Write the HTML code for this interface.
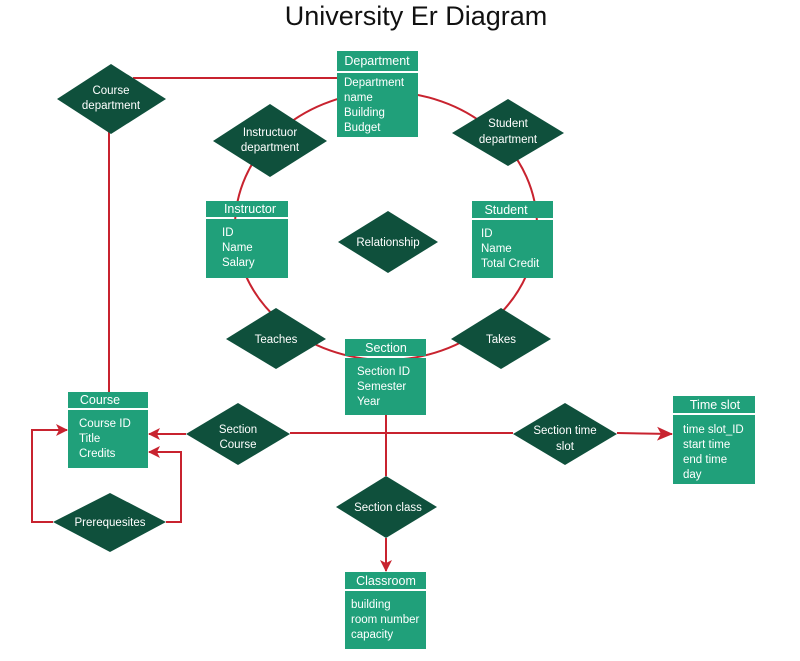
<!DOCTYPE html>
<html><head><meta charset="utf-8"><style>
html,body{margin:0;padding:0;background:#fff;}
svg{display:block;font-family:"Liberation Sans",sans-serif;}
.e{fill:#20a07a;}
.d{fill:#0f503c;}
.t{fill:#fff;font-size:11.5px;}
.h{fill:#fff;font-size:12.5px;}
.l{stroke:#c8232f;stroke-width:2;fill:none;}
</style></head><body>
<svg width="800" height="661" viewBox="0 0 800 661">
<defs><marker id="a" markerWidth="12" markerHeight="12" refX="11" refY="6" orient="auto" markerUnits="userSpaceOnUse"><path d="M0,0 L12,6 L0,12 L3,6 Z" fill="#c8232f"/></marker>
<marker id="b" markerWidth="16" markerHeight="14" refX="15" refY="7" orient="auto" markerUnits="userSpaceOnUse"><path d="M0,0 L16,7 L0,14 L4,7 Z" fill="#c8232f"/></marker></defs>
<text x="416" y="25" text-anchor="middle" font-size="27" fill="#111">University Er Diagram</text>

<ellipse class="l" cx="386" cy="226" rx="151" ry="134"/>
<polyline class="l" points="133,78 337,78"/>
<polyline class="l" points="109,120 109,392"/>
<polyline class="l" points="386,415 386,476"/>
<polyline class="l" points="386,538 386,571" marker-end="url(#a)"/>
<polyline class="l" points="186,434 149,434" marker-end="url(#a)"/>
<polyline class="l" points="290,433 513,433"/>
<polyline class="l" points="617,433 672,434" marker-end="url(#b)"/>
<polyline class="l" points="53,522 32,522 32,430 67,430" marker-end="url(#a)"/>
<polyline class="l" points="166,522 181,522 181,452 149,452" marker-end="url(#a)"/>

<g>
<rect class="e" x="337" y="51" width="81" height="20"/><rect class="e" x="337" y="73" width="81" height="64"/>
<text class="h" x="377" y="65" text-anchor="middle">Department</text>
<text class="t" x="344" y="86">Department</text><text class="t" x="344" y="101">name</text><text class="t" x="344" y="116">Building</text><text class="t" x="344" y="131">Budget</text>

<rect class="e" x="206" y="201" width="82" height="16"/><rect class="e" x="206" y="219" width="82" height="59"/>
<text class="h" x="250" y="213" text-anchor="middle">Instructor</text>
<text class="t" x="222" y="236">ID</text><text class="t" x="222" y="251">Name</text><text class="t" x="222" y="266">Salary</text>

<rect class="e" x="472" y="201" width="81" height="17"/><rect class="e" x="472" y="220" width="81" height="58"/>
<text class="h" x="506" y="214" text-anchor="middle">Student</text>
<text class="t" x="481" y="237">ID</text><text class="t" x="481" y="252">Name</text><text class="t" x="481" y="267">Total Credit</text>

<rect class="e" x="345" y="339" width="81" height="17"/><rect class="e" x="345" y="358" width="81" height="57"/>
<text class="h" x="386" y="352" text-anchor="middle">Section</text>
<text class="t" x="357" y="375">Section ID</text><text class="t" x="357" y="390">Semester</text><text class="t" x="357" y="405">Year</text>

<rect class="e" x="68" y="392" width="80" height="16"/><rect class="e" x="68" y="410" width="80" height="58"/>
<text class="h" x="100" y="404" text-anchor="middle">Course</text>
<text class="t" x="79" y="427">Course ID</text><text class="t" x="79" y="442">Title</text><text class="t" x="79" y="457">Credits</text>

<rect class="e" x="673" y="396" width="82" height="17"/><rect class="e" x="673" y="415" width="82" height="69"/>
<text class="h" x="715" y="409" text-anchor="middle">Time slot</text>
<text class="t" x="683" y="433">time slot_ID</text><text class="t" x="683" y="448">start time</text><text class="t" x="683" y="463">end time</text><text class="t" x="683" y="478">day</text>

<rect class="e" x="345" y="572" width="81" height="17"/><rect class="e" x="345" y="591" width="81" height="58"/>
<text class="h" x="386" y="585" text-anchor="middle">Classroom</text>
<text class="t" x="351" y="608">building</text><text class="t" x="351" y="623">room number</text><text class="t" x="351" y="638">capacity</text>
</g>

<polygon class="d" points="57,99 111,64 166,99 111,134"/>
<text class="t" x="111" y="94" text-anchor="middle">Course</text><text class="t" x="111" y="109" text-anchor="middle">department</text>
<polygon class="d" points="213,141 270,104 327,141 270,177"/>
<text class="t" x="270" y="136" text-anchor="middle">Instructuor</text><text class="t" x="270" y="151" text-anchor="middle">department</text>
<polygon class="d" points="452,133 508,99 564,133 508,166"/>
<text class="t" x="508" y="127" text-anchor="middle">Student</text><text class="t" x="508" y="143" text-anchor="middle">department</text>
<polygon class="d" points="338,242 388,211 438,242 388,273"/>
<text class="t" x="388" y="246" text-anchor="middle">Relationship</text>
<polygon class="d" points="226,339 276,308 326,339 276,369"/>
<text class="t" x="276" y="343" text-anchor="middle">Teaches</text>
<polygon class="d" points="451,339 501,308 551,339 501,369"/>
<text class="t" x="501" y="343" text-anchor="middle">Takes</text>
<polygon class="d" points="186,434 238,403 290,434 238,465"/>
<text class="t" x="238" y="433" text-anchor="middle">Section</text><text class="t" x="238" y="448" text-anchor="middle">Course</text>
<polygon class="d" points="513,434 565,403 617,434 565,465"/>
<text class="t" x="565" y="434" text-anchor="middle">Section time</text><text class="t" x="565" y="450" text-anchor="middle">slot</text>
<polygon class="d" points="336,507 386,476 437,507 386,538"/>
<text class="t" x="388" y="511" text-anchor="middle">Section class</text>
<polygon class="d" points="53,522 110,493 166,522 110,552"/>
<text class="t" x="110" y="526" text-anchor="middle">Prerequesites</text>
</svg>
</body></html>
